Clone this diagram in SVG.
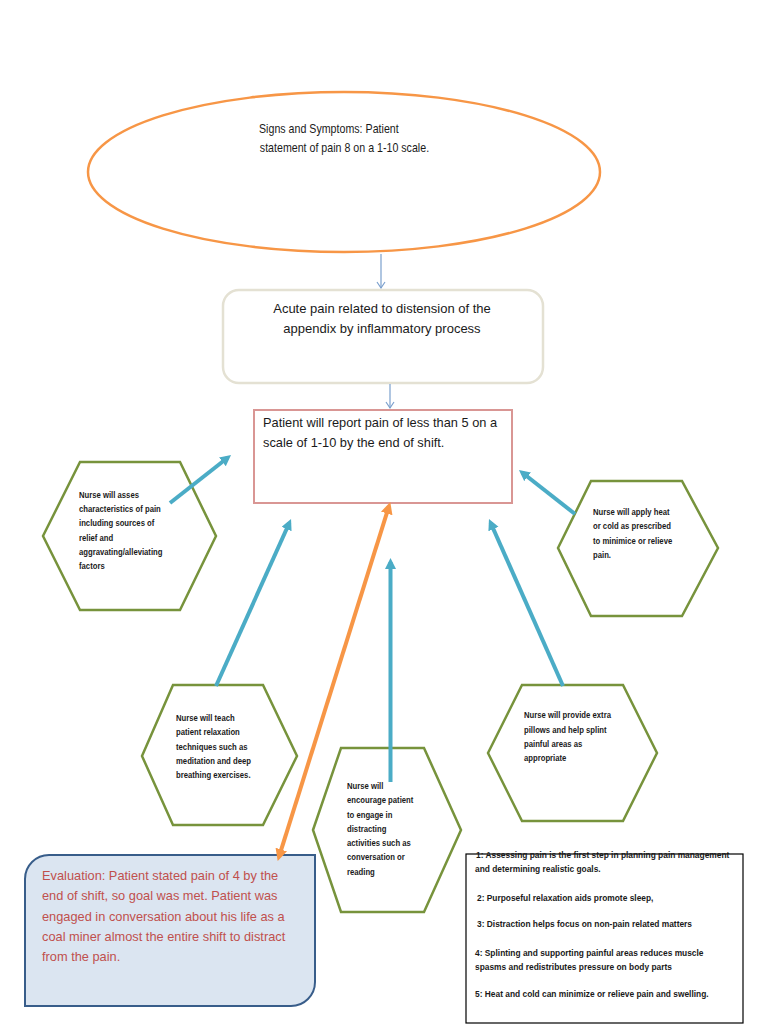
<svg xmlns="http://www.w3.org/2000/svg" width="768" height="1024" viewBox="0 0 768 1024">
<style>
  text { font-family: 'Liberation Sans', Arial, sans-serif; fill: #1a1a1a; }
  .t13 { font-size: 13px; }
  .t128 { font-size: 12.8px; }
  .hx { font-size: 8.3px; font-weight: bold; }
  .rat { font-size: 8.4px; font-weight: bold; }
  .ev { font-size: 12.8px; fill: #c0504d; }
  .hex { fill: #ffffff; stroke: #77933c; stroke-width: 2.5; stroke-linejoin: miter; }
  .thin { stroke: #7ba0cd; stroke-width: 1.2; fill: none; marker-end: url(#vhead); }
  .blue { stroke: #4bacc6; stroke-width: 4; fill: none; marker-end: url(#bhead); }
  .orange { stroke: #f79646; stroke-width: 4; fill: none; marker-start: url(#ohead); marker-end: url(#ohead); }
</style>
<defs>
  <marker id="vhead" markerUnits="userSpaceOnUse" markerWidth="12" markerHeight="12" refX="7" refY="5" orient="auto">
    <path d="M1,1 L7,5 L1,9" fill="none" stroke="#7ba0cd" stroke-width="1.2"/>
  </marker>
  <marker id="bhead" markerUnits="userSpaceOnUse" markerWidth="14" markerHeight="14" refX="7" refY="5.5" orient="auto">
    <path d="M0,0 L11,5.5 L0,11 Z" fill="#4bacc6"/>
  </marker>
  <marker id="ohead" markerUnits="userSpaceOnUse" markerWidth="14" markerHeight="14" refX="7" refY="6" orient="auto-start-reverse">
    <path d="M0,0 L12,6 L0,12 Z" fill="#f79646"/>
  </marker>
</defs>
<rect width="768" height="1024" fill="#ffffff"/>

<g id="signs">
  <ellipse cx="344" cy="172" rx="256" ry="80" fill="#ffffff" stroke="#f79646" stroke-width="2.5"/>
  <g transform="translate(259 0) scale(0.82 1)">
    <text class="t13" x="0" y="133">Signs and Symptoms: Patient</text>
    <text class="t13" x="1" y="152">statement of pain 8 on a 1-10 scale.</text>
  </g>
</g>

<g id="diagnosis">
  <rect x="223" y="290" width="320" height="93" rx="16" ry="16" fill="#ffffff" stroke="#e4e1d3" stroke-width="2.5"/>
  <text class="t13" x="382" y="313" text-anchor="middle">Acute pain related to distension of the</text>
  <text class="t13" x="382" y="333" text-anchor="middle">appendix by inflammatory process</text>
</g>

<g id="goal">
  <rect x="254" y="410" width="258" height="93" fill="#ffffff" stroke="#d99694" stroke-width="2"/>
  <text class="t128" x="263" y="427">Patient will report pain of less than 5 on a</text>
  <text class="t128" x="263" y="447">scale of 1-10 by the end of shift.</text>
</g>

<g id="assess">
  <polygon class="hex" points="43,536 80,462 180,462 216,536 180,610 80,610"/>
  <g transform="translate(79 0) scale(0.93 1)">
    <text class="hx" x="0" y="498">Nurse will asses</text>
    <text class="hx" x="0" y="512.2">characteristics of pain</text>
    <text class="hx" x="0" y="526.4">including sources of</text>
    <text class="hx" x="0" y="540.6">relief and</text>
    <text class="hx" x="0" y="554.8">aggravating/alleviating</text>
    <text class="hx" x="0" y="569">factors</text>
  </g>
</g>

<g id="heatcold">
  <polygon class="hex" points="558,548 591,481 682,481 718,548 682,616 591,616"/>
  <g transform="translate(593 0) scale(0.93 1)">
    <text class="hx" x="0" y="515">Nurse will apply heat</text>
    <text class="hx" x="0" y="529.3">or cold as prescribed</text>
    <text class="hx" x="0" y="543.6">to minimice or relieve</text>
    <text class="hx" x="0" y="557.9">pain.</text>
  </g>
</g>

<g id="teach">
  <polygon class="hex" points="142,756 173,685 263,685 297,756 263,825 173,825"/>
  <g transform="translate(176 0) scale(0.93 1)">
    <text class="hx" x="0" y="721">Nurse will teach</text>
    <text class="hx" x="0" y="735.3">patient relaxation</text>
    <text class="hx" x="0" y="749.6">techniques such as</text>
    <text class="hx" x="0" y="763.9">meditation and deep</text>
    <text class="hx" x="0" y="778.2">breathing exercises.</text>
  </g>
</g>

<g id="pillows">
  <polygon class="hex" points="488,753 522,685 623,685 657,753 623,821 522,821"/>
  <g transform="translate(524 0) scale(0.93 1)">
    <text class="hx" x="0" y="718.3">Nurse will provide extra</text>
    <text class="hx" x="0" y="732.6">pillows and help splint</text>
    <text class="hx" x="0" y="746.9">painful areas as</text>
    <text class="hx" x="0" y="761.2">appropriate</text>
  </g>
</g>

<g id="encourage">
  <polygon class="hex" points="313,830 341,748 424,748 461,830 424,912 341,912"/>
  <g transform="translate(347 0) scale(0.93 1)">
    <text class="hx" x="0" y="789">Nurse will</text>
    <text class="hx" x="0" y="803.3">encourage patient</text>
    <text class="hx" x="0" y="817.6">to engage in</text>
    <text class="hx" x="0" y="831.9">distracting</text>
    <text class="hx" x="0" y="846.2">activities such as</text>
    <text class="hx" x="0" y="860.5">conversation or</text>
    <text class="hx" x="0" y="874.8">reading</text>
  </g>
</g>

<g id="evaluation">
  <path d="M25,879 A24,24 0 0 1 49,855 L315,855 L315,982 A24,24 0 0 1 291,1006 L25,1006 Z" fill="#dbe5f1" stroke="#385d8a" stroke-width="2"/>
  <text class="ev" x="42" y="880">Evaluation: Patient stated pain of 4 by the</text>
  <text class="ev" x="42" y="900.3">end of shift, so goal was met. Patient was</text>
  <text class="ev" x="42" y="920.6">engaged in conversation about his life as a</text>
  <text class="ev" x="42" y="940.9">coal miner almost the entire shift to distract</text>
  <text class="ev" x="42" y="961.2">from the pain.</text>
</g>

<g id="rationale">
  <rect x="466" y="854" width="277" height="169" fill="#ffffff" stroke="#000000" stroke-width="1.2"/>
  <text class="rat" x="476" y="858">1: Assessing pain is the first step in planning pain management</text>
  <text class="rat" x="475" y="872">and determining realistic goals.</text>
  <text class="rat" x="477" y="901">2: Purposeful relaxation aids promote sleep,</text>
  <text class="rat" x="477" y="927">3: Distraction helps focus on non-pain related matters</text>
  <text class="rat" x="475" y="955.5">4: Splinting and supporting painful areas reduces muscle</text>
  <text class="rat" x="475" y="970">spasms and redistributes pressure on body parts</text>
  <text class="rat" x="475" y="997">5: Heat and cold can minimize or relieve pain and swelling.</text>
</g>

<g id="connectors">
  <line class="thin" x1="381" y1="254" x2="381" y2="288"/>
  <line class="thin" x1="390" y1="384" x2="390" y2="408"/>
  <line class="blue" x1="170" y1="503" x2="227.9" y2="457.5"/>
  <line class="blue" x1="216" y1="686" x2="289.4" y2="522.7"/>
  <line class="blue" x1="390.5" y1="782" x2="390.5" y2="562"/>
  <line class="blue" x1="563" y1="686" x2="490.6" y2="522.7"/>
  <line class="blue" x1="575" y1="514" x2="522.1" y2="472.5"/>
  <line class="orange" x1="388.8" y1="506.8" x2="279.2" y2="856.2"/>
</g>
</svg>
